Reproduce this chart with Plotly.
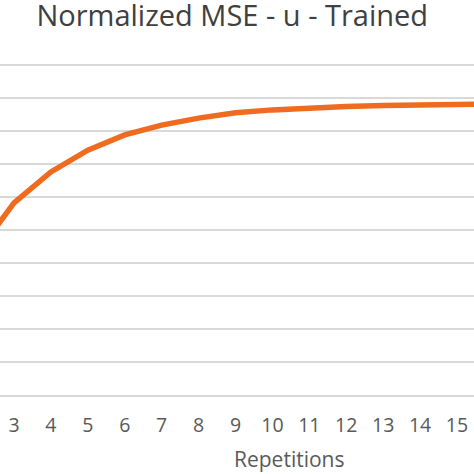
import plotly.graph_objects as go

title = "Normalized MSE - u - Trained"
x_title = "Repetitions"
repetitions = [2, 3, 4, 5, 6, 7, 8, 9, 10, 11, 12, 13, 14, 15, 16]
mse = [0.43, 0.582, 0.676, 0.742, 0.788, 0.818, 0.839, 0.855, 0.864,
       0.871, 0.874, 0.877, 0.879, 0.881, 0.882]
tick_vals = list(range(3, 16))

fig = go.Figure()
fig.add_trace(go.Scatter(
    x=repetitions, y=mse, mode="lines",
    line=dict(color="#EF6B1F", width=5.5),
    hoverinfo="skip",
))

fig.update_layout(
    width=474, height=474,
    margin=dict(l=0, r=0, t=32, b=79),
    paper_bgcolor="white", plot_bgcolor="white",
    showlegend=False,
    font=dict(family="Open Sans", color="#595959"),
    title=dict(text=title, x=0.49, xanchor="center", y=0.987, yanchor="top",
               yref="container",
               font=dict(family="Open Sans", size=29, color="#404040")),
    annotations=[dict(text=x_title, xref="paper", yref="paper", x=0.61, y=-0.175,
                      xanchor="center", yanchor="middle", showarrow=False,
                      font=dict(family="Open Sans", size=21, color="#595959"))],
)
fig.update_xaxes(
    range=[2.621, 15.46], tickvals=tick_vals, ticktext=[str(v) for v in tick_vals],
    showgrid=False, zeroline=False, showline=True, linecolor="#D9D9D9", linewidth=1.5,
    ticks="", tickfont=dict(size=19.5, color="#595959"), ticklabelstandoff=12,
)
fig.update_yaxes(
    range=[0, 1.1], dtick=0.1, showgrid=True, gridcolor="#D9D9D9", gridwidth=1.5,
    zeroline=False, showticklabels=False, ticks="",
)

fig.write_html("out.html")
